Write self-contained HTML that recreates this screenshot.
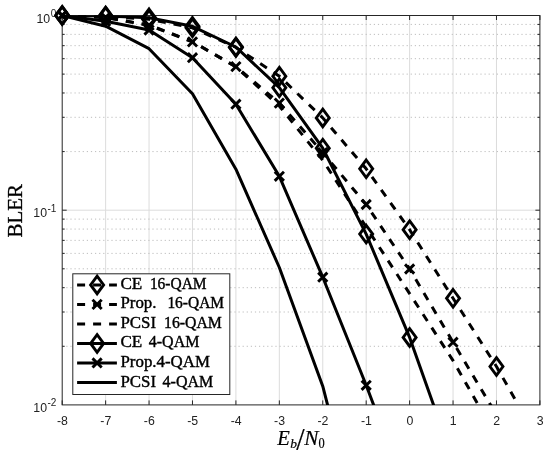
<!DOCTYPE html><html><head><meta charset="utf-8"><title>BLER</title><style>html,body{margin:0;padding:0;background:#fff}svg{display:block}text{font-family:"Liberation Sans",sans-serif;fill:#222}.s{font-family:"Liberation Serif",serif;fill:#000}</style></head><body>
<svg width="550" height="455" viewBox="0 0 550 455">
<rect width="550" height="455" fill="#fff"/>
<defs><clipPath id="c"><rect x="62.2" y="15.5" width="477.7" height="389.4"/></clipPath></defs>
<g stroke="#dcdcdc" stroke-width="1"><line x1="105.63" x2="105.63" y1="15.5" y2="404.9"/><line x1="149.05" x2="149.05" y1="15.5" y2="404.9"/><line x1="192.48" x2="192.48" y1="15.5" y2="404.9"/><line x1="235.91" x2="235.91" y1="15.5" y2="404.9"/><line x1="279.34" x2="279.34" y1="15.5" y2="404.9"/><line x1="322.76" x2="322.76" y1="15.5" y2="404.9"/><line x1="366.19" x2="366.19" y1="15.5" y2="404.9"/><line x1="409.62" x2="409.62" y1="15.5" y2="404.9"/><line x1="453.05" x2="453.05" y1="15.5" y2="404.9"/><line x1="496.47" x2="496.47" y1="15.5" y2="404.9"/><line x1="62.2" x2="539.9" y1="210.20" y2="210.20"/></g>
<g stroke="#bdbdbd" stroke-width="1" stroke-dasharray="1.2 2.9"><line x1="62.2" x2="539.9" y1="151.59" y2="151.59"/><line x1="62.2" x2="539.9" y1="117.30" y2="117.30"/><line x1="62.2" x2="539.9" y1="92.98" y2="92.98"/><line x1="62.2" x2="539.9" y1="74.11" y2="74.11"/><line x1="62.2" x2="539.9" y1="58.69" y2="58.69"/><line x1="62.2" x2="539.9" y1="45.66" y2="45.66"/><line x1="62.2" x2="539.9" y1="34.37" y2="34.37"/><line x1="62.2" x2="539.9" y1="24.41" y2="24.41"/><line x1="62.2" x2="539.9" y1="346.29" y2="346.29"/><line x1="62.2" x2="539.9" y1="312.00" y2="312.00"/><line x1="62.2" x2="539.9" y1="287.68" y2="287.68"/><line x1="62.2" x2="539.9" y1="268.81" y2="268.81"/><line x1="62.2" x2="539.9" y1="253.39" y2="253.39"/><line x1="62.2" x2="539.9" y1="240.36" y2="240.36"/><line x1="62.2" x2="539.9" y1="229.07" y2="229.07"/><line x1="62.2" x2="539.9" y1="219.11" y2="219.11"/></g>
<rect x="62.2" y="15.5" width="477.7" height="389.4" fill="none" stroke="#262626" stroke-width="1"/>
<g stroke="#262626" stroke-width="1"><line x1="62.20" x2="62.20" y1="404.9" y2="400.4"/><line x1="62.20" x2="62.20" y1="15.5" y2="20.0"/><line x1="105.63" x2="105.63" y1="404.9" y2="400.4"/><line x1="105.63" x2="105.63" y1="15.5" y2="20.0"/><line x1="149.05" x2="149.05" y1="404.9" y2="400.4"/><line x1="149.05" x2="149.05" y1="15.5" y2="20.0"/><line x1="192.48" x2="192.48" y1="404.9" y2="400.4"/><line x1="192.48" x2="192.48" y1="15.5" y2="20.0"/><line x1="235.91" x2="235.91" y1="404.9" y2="400.4"/><line x1="235.91" x2="235.91" y1="15.5" y2="20.0"/><line x1="279.34" x2="279.34" y1="404.9" y2="400.4"/><line x1="279.34" x2="279.34" y1="15.5" y2="20.0"/><line x1="322.76" x2="322.76" y1="404.9" y2="400.4"/><line x1="322.76" x2="322.76" y1="15.5" y2="20.0"/><line x1="366.19" x2="366.19" y1="404.9" y2="400.4"/><line x1="366.19" x2="366.19" y1="15.5" y2="20.0"/><line x1="409.62" x2="409.62" y1="404.9" y2="400.4"/><line x1="409.62" x2="409.62" y1="15.5" y2="20.0"/><line x1="453.05" x2="453.05" y1="404.9" y2="400.4"/><line x1="453.05" x2="453.05" y1="15.5" y2="20.0"/><line x1="496.47" x2="496.47" y1="404.9" y2="400.4"/><line x1="496.47" x2="496.47" y1="15.5" y2="20.0"/><line x1="539.90" x2="539.90" y1="404.9" y2="400.4"/><line x1="539.90" x2="539.90" y1="15.5" y2="20.0"/><line x1="62.2" x2="64.7" y1="151.59" y2="151.59"/><line x1="539.9" x2="537.4" y1="151.59" y2="151.59"/><line x1="62.2" x2="64.7" y1="117.30" y2="117.30"/><line x1="539.9" x2="537.4" y1="117.30" y2="117.30"/><line x1="62.2" x2="64.7" y1="92.98" y2="92.98"/><line x1="539.9" x2="537.4" y1="92.98" y2="92.98"/><line x1="62.2" x2="64.7" y1="74.11" y2="74.11"/><line x1="539.9" x2="537.4" y1="74.11" y2="74.11"/><line x1="62.2" x2="64.7" y1="58.69" y2="58.69"/><line x1="539.9" x2="537.4" y1="58.69" y2="58.69"/><line x1="62.2" x2="64.7" y1="45.66" y2="45.66"/><line x1="539.9" x2="537.4" y1="45.66" y2="45.66"/><line x1="62.2" x2="64.7" y1="34.37" y2="34.37"/><line x1="539.9" x2="537.4" y1="34.37" y2="34.37"/><line x1="62.2" x2="64.7" y1="24.41" y2="24.41"/><line x1="539.9" x2="537.4" y1="24.41" y2="24.41"/><line x1="62.2" x2="64.7" y1="346.29" y2="346.29"/><line x1="539.9" x2="537.4" y1="346.29" y2="346.29"/><line x1="62.2" x2="64.7" y1="312.00" y2="312.00"/><line x1="539.9" x2="537.4" y1="312.00" y2="312.00"/><line x1="62.2" x2="64.7" y1="287.68" y2="287.68"/><line x1="539.9" x2="537.4" y1="287.68" y2="287.68"/><line x1="62.2" x2="64.7" y1="268.81" y2="268.81"/><line x1="539.9" x2="537.4" y1="268.81" y2="268.81"/><line x1="62.2" x2="64.7" y1="253.39" y2="253.39"/><line x1="539.9" x2="537.4" y1="253.39" y2="253.39"/><line x1="62.2" x2="64.7" y1="240.36" y2="240.36"/><line x1="539.9" x2="537.4" y1="240.36" y2="240.36"/><line x1="62.2" x2="64.7" y1="229.07" y2="229.07"/><line x1="539.9" x2="537.4" y1="229.07" y2="229.07"/><line x1="62.2" x2="64.7" y1="219.11" y2="219.11"/><line x1="539.9" x2="537.4" y1="219.11" y2="219.11"/><line x1="62.2" x2="66.7" y1="210.20" y2="210.20"/><line x1="539.9" x2="535.4" y1="210.20" y2="210.20"/></g>
<text x="62.40" y="424.5" font-size="12.3" text-anchor="middle">-8</text>
<text x="105.83" y="424.5" font-size="12.3" text-anchor="middle">-7</text>
<text x="149.25" y="424.5" font-size="12.3" text-anchor="middle">-6</text>
<text x="192.68" y="424.5" font-size="12.3" text-anchor="middle">-5</text>
<text x="236.11" y="424.5" font-size="12.3" text-anchor="middle">-4</text>
<text x="279.54" y="424.5" font-size="12.3" text-anchor="middle">-3</text>
<text x="322.96" y="424.5" font-size="12.3" text-anchor="middle">-2</text>
<text x="366.39" y="424.5" font-size="12.3" text-anchor="middle">-1</text>
<text x="409.82" y="424.5" font-size="12.3" text-anchor="middle">0</text>
<text x="453.25" y="424.5" font-size="12.3" text-anchor="middle">1</text>
<text x="496.67" y="424.5" font-size="12.3" text-anchor="middle">2</text>
<text x="540.10" y="424.5" font-size="12.3" text-anchor="middle">3</text>
<text x="56.3" y="17.00" font-size="10" text-anchor="end">0</text>
<text x="50.20" y="22.70" font-size="12.3" text-anchor="end">10</text>
<text x="56.3" y="211.70" font-size="10" text-anchor="end">-1</text>
<text x="47.00" y="217.40" font-size="12.3" text-anchor="end">10</text>
<text x="56.3" y="406.40" font-size="10" text-anchor="end">-2</text>
<text x="47.00" y="412.10" font-size="12.3" text-anchor="end">10</text>
<text class="s" transform="translate(22.2,210.7) rotate(-90)" font-size="20" stroke="#000" stroke-width="0.3" text-anchor="middle" textLength="53.5" lengthAdjust="spacingAndGlyphs">BLER</text>
<text class="s" font-size="20" font-style="italic" stroke="#000" stroke-width="0.2"><tspan x="277.3" y="444.6" textLength="12.6" lengthAdjust="spacingAndGlyphs">E</tspan><tspan x="290.2" y="447.6" font-size="13.5">b</tspan><tspan x="296.3" y="450.2" font-style="normal" font-size="32.5" textLength="8.4" lengthAdjust="spacingAndGlyphs">/</tspan><tspan x="304.2" y="444.6" textLength="14.2" lengthAdjust="spacingAndGlyphs">N</tspan><tspan x="318.6" y="447.9" font-size="14.5" font-style="normal" textLength="6.2" lengthAdjust="spacingAndGlyphs">0</tspan></text>
<polyline clip-path="url(#c)" points="62.20,15.50 105.63,16.40 149.05,19.30 192.48,27.80 235.91,47.40 279.34,76.20 322.76,117.90 366.19,168.80 409.62,229.70 453.05,298.30 496.47,366.50 539.90,443.30" fill="none" stroke="#000" stroke-width="3" stroke-linejoin="round" stroke-dasharray="8 8"/>
<path d="M62.20 6.70L68.70 15.50L62.20 24.30L55.70 15.50Z" fill="none" stroke="#000" stroke-width="2.9" stroke-linejoin="miter"/>
<path d="M105.63 7.60L112.13 16.40L105.63 25.20L99.13 16.40Z" fill="none" stroke="#000" stroke-width="2.9" stroke-linejoin="miter"/>
<path d="M149.05 10.50L155.55 19.30L149.05 28.10L142.55 19.30Z" fill="none" stroke="#000" stroke-width="2.9" stroke-linejoin="miter"/>
<path d="M192.48 19.00L198.98 27.80L192.48 36.60L185.98 27.80Z" fill="none" stroke="#000" stroke-width="2.9" stroke-linejoin="miter"/>
<path d="M235.91 38.60L242.41 47.40L235.91 56.20L229.41 47.40Z" fill="none" stroke="#000" stroke-width="2.9" stroke-linejoin="miter"/>
<path d="M279.34 67.40L285.84 76.20L279.34 85.00L272.84 76.20Z" fill="none" stroke="#000" stroke-width="2.9" stroke-linejoin="miter"/>
<path d="M322.76 109.10L329.26 117.90L322.76 126.70L316.26 117.90Z" fill="none" stroke="#000" stroke-width="2.9" stroke-linejoin="miter"/>
<path d="M366.19 160.00L372.69 168.80L366.19 177.60L359.69 168.80Z" fill="none" stroke="#000" stroke-width="2.9" stroke-linejoin="miter"/>
<path d="M409.62 220.90L416.12 229.70L409.62 238.50L403.12 229.70Z" fill="none" stroke="#000" stroke-width="2.9" stroke-linejoin="miter"/>
<path d="M453.05 289.50L459.55 298.30L453.05 307.10L446.55 298.30Z" fill="none" stroke="#000" stroke-width="2.9" stroke-linejoin="miter"/>
<path d="M496.47 357.70L502.97 366.50L496.47 375.30L489.97 366.50Z" fill="none" stroke="#000" stroke-width="2.9" stroke-linejoin="miter"/>
<polyline clip-path="url(#c)" points="62.20,15.50 105.63,17.50 149.05,25.40 192.48,41.90 235.91,66.60 279.34,103.10 322.76,152.60 366.19,204.50 409.62,269.00 453.05,342.20 496.47,414.80" fill="none" stroke="#000" stroke-width="3" stroke-linejoin="round" stroke-dasharray="8 8"/>
<path d="M57.60 10.90L66.80 20.10M57.60 20.10L66.80 10.90" fill="none" stroke="#000" stroke-width="2.9"/>
<path d="M101.03 12.90L110.23 22.10M101.03 22.10L110.23 12.90" fill="none" stroke="#000" stroke-width="2.9"/>
<path d="M144.45 20.80L153.65 30.00M144.45 30.00L153.65 20.80" fill="none" stroke="#000" stroke-width="2.9"/>
<path d="M187.88 37.30L197.08 46.50M187.88 46.50L197.08 37.30" fill="none" stroke="#000" stroke-width="2.9"/>
<path d="M231.31 62.00L240.51 71.20M231.31 71.20L240.51 62.00" fill="none" stroke="#000" stroke-width="2.9"/>
<path d="M274.74 98.50L283.94 107.70M274.74 107.70L283.94 98.50" fill="none" stroke="#000" stroke-width="2.9"/>
<path d="M318.16 148.00L327.36 157.20M318.16 157.20L327.36 148.00" fill="none" stroke="#000" stroke-width="2.9"/>
<path d="M361.59 199.90L370.79 209.10M361.59 209.10L370.79 199.90" fill="none" stroke="#000" stroke-width="2.9"/>
<path d="M405.02 264.40L414.22 273.60M405.02 273.60L414.22 264.40" fill="none" stroke="#000" stroke-width="2.9"/>
<path d="M448.45 337.60L457.65 346.80M448.45 346.80L457.65 337.60" fill="none" stroke="#000" stroke-width="2.9"/>
<polyline clip-path="url(#c)" points="62.20,15.50 105.63,17.50 149.05,25.00 192.48,41.50 235.91,66.90 279.34,106.00 322.76,160.30 366.19,227.10 409.62,293.60 453.05,360.60 496.47,437.00" fill="none" stroke="#000" stroke-width="3" stroke-linejoin="round" stroke-dasharray="8 8"/>
<polyline clip-path="url(#c)" points="62.20,15.50 105.63,16.00 149.05,17.80 192.48,26.30 235.91,47.00 279.34,87.70 322.76,148.20 366.19,234.10 409.62,337.40 453.05,460.00" fill="none" stroke="#000" stroke-width="3" stroke-linejoin="round"/>
<path d="M62.20 6.70L68.70 15.50L62.20 24.30L55.70 15.50Z" fill="none" stroke="#000" stroke-width="2.9" stroke-linejoin="miter"/>
<path d="M105.63 7.20L112.13 16.00L105.63 24.80L99.13 16.00Z" fill="none" stroke="#000" stroke-width="2.9" stroke-linejoin="miter"/>
<path d="M149.05 9.00L155.55 17.80L149.05 26.60L142.55 17.80Z" fill="none" stroke="#000" stroke-width="2.9" stroke-linejoin="miter"/>
<path d="M192.48 17.50L198.98 26.30L192.48 35.10L185.98 26.30Z" fill="none" stroke="#000" stroke-width="2.9" stroke-linejoin="miter"/>
<path d="M235.91 38.20L242.41 47.00L235.91 55.80L229.41 47.00Z" fill="none" stroke="#000" stroke-width="2.9" stroke-linejoin="miter"/>
<path d="M279.34 78.90L285.84 87.70L279.34 96.50L272.84 87.70Z" fill="none" stroke="#000" stroke-width="2.9" stroke-linejoin="miter"/>
<path d="M322.76 139.40L329.26 148.20L322.76 157.00L316.26 148.20Z" fill="none" stroke="#000" stroke-width="2.9" stroke-linejoin="miter"/>
<path d="M366.19 225.30L372.69 234.10L366.19 242.90L359.69 234.10Z" fill="none" stroke="#000" stroke-width="2.9" stroke-linejoin="miter"/>
<path d="M409.62 328.60L416.12 337.40L409.62 346.20L403.12 337.40Z" fill="none" stroke="#000" stroke-width="2.9" stroke-linejoin="miter"/>
<polyline clip-path="url(#c)" points="62.20,15.50 105.63,21.30 149.05,30.00 192.48,57.70 235.91,104.20 279.34,176.30 322.76,277.20 366.19,385.30 409.62,500.00" fill="none" stroke="#000" stroke-width="3" stroke-linejoin="round"/>
<path d="M57.60 10.90L66.80 20.10M57.60 20.10L66.80 10.90" fill="none" stroke="#000" stroke-width="2.9"/>
<path d="M101.03 16.70L110.23 25.90M101.03 25.90L110.23 16.70" fill="none" stroke="#000" stroke-width="2.9"/>
<path d="M144.45 25.40L153.65 34.60M144.45 34.60L153.65 25.40" fill="none" stroke="#000" stroke-width="2.9"/>
<path d="M187.88 53.10L197.08 62.30M187.88 62.30L197.08 53.10" fill="none" stroke="#000" stroke-width="2.9"/>
<path d="M231.31 99.60L240.51 108.80M231.31 108.80L240.51 99.60" fill="none" stroke="#000" stroke-width="2.9"/>
<path d="M274.74 171.70L283.94 180.90M274.74 180.90L283.94 171.70" fill="none" stroke="#000" stroke-width="2.9"/>
<path d="M318.16 272.60L327.36 281.80M318.16 281.80L327.36 272.60" fill="none" stroke="#000" stroke-width="2.9"/>
<path d="M361.59 380.70L370.79 389.90M361.59 389.90L370.79 380.70" fill="none" stroke="#000" stroke-width="2.9"/>
<polyline clip-path="url(#c)" points="62.20,15.50 105.63,26.20 149.05,48.70 192.48,93.80 235.91,169.20 279.34,267.50 322.76,386.20 366.19,555.00" fill="none" stroke="#000" stroke-width="3" stroke-linejoin="round"/>
<rect x="72.8" y="273.8" width="157.0" height="120.7" fill="#fff" stroke="#262626" stroke-width="1"/>
<line x1="77.1" x2="116.9" y1="284.90" y2="284.90" stroke="#000" stroke-width="3" stroke-dasharray="8 8"/>
<path d="M97.10 276.10L103.60 284.90L97.10 293.70L90.60 284.90Z" fill="none" stroke="#000" stroke-width="2.9" stroke-linejoin="miter"/>
<text class="s" y="288.90" font-size="16" stroke="#000" stroke-width="0.4"><tspan x="120.5" textLength="21.8" lengthAdjust="spacingAndGlyphs">CE</tspan><tspan x="149.9" textLength="56.7" lengthAdjust="spacingAndGlyphs">16-QAM</tspan></text>
<line x1="77.1" x2="116.9" y1="304.42" y2="304.42" stroke="#000" stroke-width="3" stroke-dasharray="8 8"/>
<path d="M92.50 299.82L101.70 309.02M92.50 309.02L101.70 299.82" fill="none" stroke="#000" stroke-width="2.9"/>
<text class="s" y="308.42" font-size="16" stroke="#000" stroke-width="0.4"><tspan x="120.5" textLength="36.0" lengthAdjust="spacingAndGlyphs">Prop.</tspan><tspan x="167.4" textLength="56.7" lengthAdjust="spacingAndGlyphs">16-QAM</tspan></text>
<line x1="77.1" x2="116.9" y1="323.94" y2="323.94" stroke="#000" stroke-width="3" stroke-dasharray="8 8"/>
<text class="s" y="327.94" font-size="16" stroke="#000" stroke-width="0.4"><tspan x="120.5" textLength="35.5" lengthAdjust="spacingAndGlyphs">PCSI</tspan><tspan x="164.1" textLength="57.8" lengthAdjust="spacingAndGlyphs">16-QAM</tspan></text>
<line x1="77.1" x2="116.9" y1="343.46" y2="343.46" stroke="#000" stroke-width="3"/>
<path d="M97.10 334.66L103.60 343.46L97.10 352.26L90.60 343.46Z" fill="none" stroke="#000" stroke-width="2.9" stroke-linejoin="miter"/>
<text class="s" y="347.46" font-size="16" stroke="#000" stroke-width="0.4"><tspan x="120.5" textLength="21.8" lengthAdjust="spacingAndGlyphs">CE</tspan><tspan x="148.8" textLength="50.6" lengthAdjust="spacingAndGlyphs">4-QAM</tspan></text>
<line x1="77.1" x2="116.9" y1="362.98" y2="362.98" stroke="#000" stroke-width="3"/>
<path d="M92.50 358.38L101.70 367.58M92.50 367.58L101.70 358.38" fill="none" stroke="#000" stroke-width="2.9"/>
<text class="s" y="366.98" font-size="16" stroke="#000" stroke-width="0.4"><tspan x="120.5" textLength="89.4" lengthAdjust="spacingAndGlyphs">Prop.4-QAM</tspan></text>
<line x1="77.1" x2="116.9" y1="382.50" y2="382.50" stroke="#000" stroke-width="3"/>
<text class="s" y="386.50" font-size="16" stroke="#000" stroke-width="0.4"><tspan x="120.5" textLength="35.5" lengthAdjust="spacingAndGlyphs">PCSI</tspan><tspan x="162.6" textLength="50.6" lengthAdjust="spacingAndGlyphs">4-QAM</tspan></text>
</svg></body></html>
